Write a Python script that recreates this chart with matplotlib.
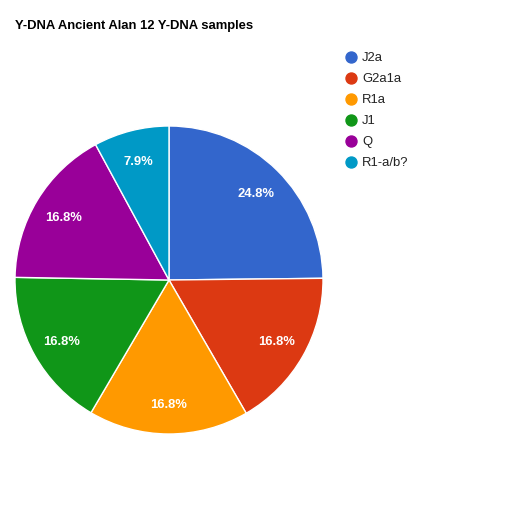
import matplotlib.pyplot as plt
from matplotlib.lines import Line2D

plt.rcParams['font.family'] = ['Liberation Sans', 'DejaVu Sans']

TITLE = 'Y-DNA Ancient Alan 12 Y-DNA samples'
labels = ['J2a', 'G2a1a', 'R1a', 'J1', 'Q', 'R1-a/b?']
values = [24.8, 16.8, 16.8, 16.8, 16.8, 7.9]
colors = ['#3366cc', '#dc3912', '#ff9900', '#109618', '#990099', '#0099c6']

W = H = 513
DPI = 100
PX = 72 / DPI  # points per pixel

fig = plt.figure(figsize=(W / DPI, H / DPI), dpi=DPI)
fig.set_facecolor('white')

# pie centre (169, 280) px from top-left, radius 154 px
cx, cy, r = 169, 280, 154
ax = fig.add_axes([(cx - r) / W, (H - cy - r) / H, 2 * r / W, 2 * r / H])
ax.set_aspect('equal')

wedges, texts, autotexts = ax.pie(
    values, colors=colors, startangle=90, counterclock=False,
    radius=1, autopct='%.1f%%', pctdistance=0.8,
    wedgeprops=dict(edgecolor='white', linewidth=1),
    textprops=dict(color='white', fontsize=13 * PX, fontweight='bold'))
for t in autotexts:
    t.set_va('center_baseline')
ax.set_xlim(-1, 1)
ax.set_ylim(-1, 1)

fig.text(15 / W, 1 - 24 / H, TITLE, fontsize=13 * PX, fontweight='bold',
         color='#000000', ha='left', va='center_baseline')

# legend
for i, (lab, col) in enumerate(zip(labels, colors)):
    y = 1 - (56.5 + 21 * i) / H
    fig.add_artist(Line2D([351 / W], [y], marker='o', markersize=11 * PX,
                          color=col, linestyle='none'))
    fig.text(362 / W, y, lab, fontsize=13 * PX, color='#222222',
             ha='left', va='center_baseline')

fig.savefig('out.png', dpi=DPI)
